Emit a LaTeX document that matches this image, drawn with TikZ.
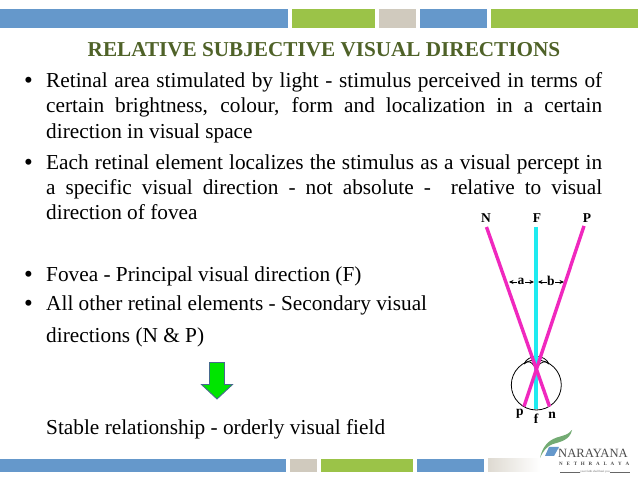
\documentclass[tikz,border=0pt]{standalone}
\usepackage{fontspec}
\setmainfont{Liberation Serif}
\usetikzlibrary{arrows.meta}
\definecolor{barblue}{RGB}{101,152,203}
\definecolor{bargreen}{RGB}{155,195,72}
\definecolor{bartan}{RGB}{208,202,190}
\definecolor{titlegreen}{RGB}{79,98,40}
\definecolor{ray}{RGB}{240,40,190}
\definecolor{axis}{RGB}{30,235,240}
\tikzset{x=1pt,y=-1pt,
 body/.style={anchor=base west,inner sep=0pt,font=\fontsize{21.3}{21}\selectfont},
 bul/.style={anchor=base west,inner sep=0pt,font=\fontsize{25}{25}\selectfont},
 lab/.style={inner sep=0pt,font=\bfseries\fontsize{13.5}{14}\selectfont},
 dim/.style={-{Stealth[length=4.5pt,width=4pt]},line width=0.6pt},
 rayline/.style={ray,line width=3.4pt},
 axisline/.style={axis,line width=3.6pt}}
\newcommand{\jl}[1]{\makebox[556pt][s]{#1}}
\begin{document}
\begin{tikzpicture}
\useasboundingbox (0,0) rectangle (638,478);
\fill[white] (0,0) rectangle (638,478);
% top bars
\fill[barblue] (0,9.5) rectangle (288,28);
\fill[bargreen] (291.5,9.5) rectangle (375,28);
\fill[bartan] (379,9.5) rectangle (416,28);
\fill[barblue] (420,9.5) rectangle (487,28);
\fill[bargreen] (491,9.5) rectangle (638,28);
% bottom bars
\fill[barblue] (0,459) rectangle (286,472);
\fill[bartan] (290,459) rectangle (317,472);
\fill[bargreen] (321,459) rectangle (413,472);
\fill[barblue] (417,459) rectangle (484,472);
\shade[left color=bartan!70,right color=white] (488,459) rectangle (540,472);
% title
\node[anchor=base,inner sep=0pt,text=titlegreen,font=\bfseries\fontsize{21.2}{22}\selectfont] (title) at (324,57) {RELATIVE SUBJECTIVE VISUAL DIRECTIONS};
% body
\node[bul] (b1) at (24,89) {•};
\node[body] (l1) at (46,88) {\jl{Retinal area stimulated by light - stimulus perceived in terms of}};
\node[body] (l2) at (46,113) {\jl{certain brightness, colour, form and localization in a certain}};
\node[body] (l3) at (46,139) {direction in visual space};
\node[bul] (b2) at (24,171) {•};
\node[body] (l4) at (46,170) {\jl{Each retinal element localizes the stimulus as a visual percept in}};
\node[body] (l5) at (46,195) {\jl{a specific visual direction - not absolute -\ \ relative to visual}};
\node[body] (l6) at (46,220) {direction of fovea};
\node[bul] (b3) at (24,283) {•};
\node[body] (l7) at (46,282) {Fovea - Principal visual direction (F)};
\node[bul] (b4) at (24,312) {•};
\node[body] (l8) at (46,311) {All other retinal elements - Secondary visual};
\node[body] (l9) at (46,343) {directions (N \& P)};
\node[body] (l10) at (46,435) {Stable relationship - orderly visual field};
% arrow
\draw[draw=barblue!70!black,fill=green!90!black,line width=0.9pt,line join=miter]
 (209.5,362.5) -- (224.5,362.5) -- (224.5,384.5) -- (232.5,384.5) -- (217,399) -- (201.5,384.5) -- (209.5,384.5) -- cycle;
% eye
\draw[black,line width=0.8pt] (536.3,385) circle (25);
\draw[black,line width=0.8pt] (524,364) .. controls (528,354) and (545,354) .. (549,364);
\draw[black,line width=0.8pt] (524,364) .. controls (528,360) and (532,362) .. (534,366);
\draw[black,line width=0.8pt] (549,364) .. controls (545,360) and (541,362) .. (538,366);
\coordinate (Ntop) at (486.5,227);
\coordinate (Ptop) at (584,226);
\coordinate (Ftop) at (535.7,227);
\coordinate (nb) at (549.5,406.5);
\coordinate (pb) at (524,406.5);
\coordinate (fb) at (535.7,409);
\draw[axisline] (Ftop) -- (fb);
\draw[rayline] (Ntop) -- (nb);
\draw[rayline] (Ptop) -- (pb);
% labels
\node[lab] (N) at (486,218) {N};
\node[lab] (F) at (537,218) {F};
\node[lab] (P) at (587,218) {P};
\node[lab] (a) at (521,281) {a};
\node[lab] (b) at (551,281) {b};
\node[lab] (p) at (520,414) {p};
\node[lab] (f) at (536,419) {f};
\node[lab] (n) at (552,415) {n};
\coordinate (aL) at (509,282);
\coordinate (aR) at (534,282);
\coordinate (bL) at (538,282);
\coordinate (bR) at (564,282);
\draw[dim] (a.west |- aL) ++(-0.5,0) -- (aL);
\draw[dim] (a.east |- aR) ++(0.5,0) -- (aR);
\draw[dim] (b.west |- bL) ++(-0.5,0) -- (bL);
\draw[dim] (b.east |- bR) ++(0.5,0) -- (bR);
% logo
\fill[green!40!black!55] (540,458) .. controls (544,440) and (555,438) .. (562,436) .. controls (567,434.5) and (570,433) .. (572,430) .. controls (570,440) and (560,442) .. (553,444) .. controls (547,446) and (543,451) .. cycle;
\fill[barblue] (549,447) -- (559,447) -- (554,456) -- (545,456) -- cycle;
\node[inner sep=0pt,anchor=base west,text=black!70,font=\fontsize{12.6}{13}\selectfont] (logo1) at (558,458) {\makebox[72pt][s]{NARAYANA}};
\node[inner sep=0pt,anchor=base west,text=black!70,font=\bfseries\fontsize{5}{6}\selectfont] (logo2) at (559,465.5) {\makebox[70pt][s]{N E T H R A L A Y A}};
\node[inner sep=0pt,text=black!60,font=\fontsize{3}{3}\selectfont] (logo3) at (595,472) {your faith shall heal you};
\coordinate (tL) at (560,472);
\coordinate (tR) at (630,472);
\draw[black!60,line width=0.3pt] (tL) -- (logo3.west);
\draw[black!60,line width=0.3pt] (logo3.east) -- (tR);
\end{tikzpicture}
\end{document}
